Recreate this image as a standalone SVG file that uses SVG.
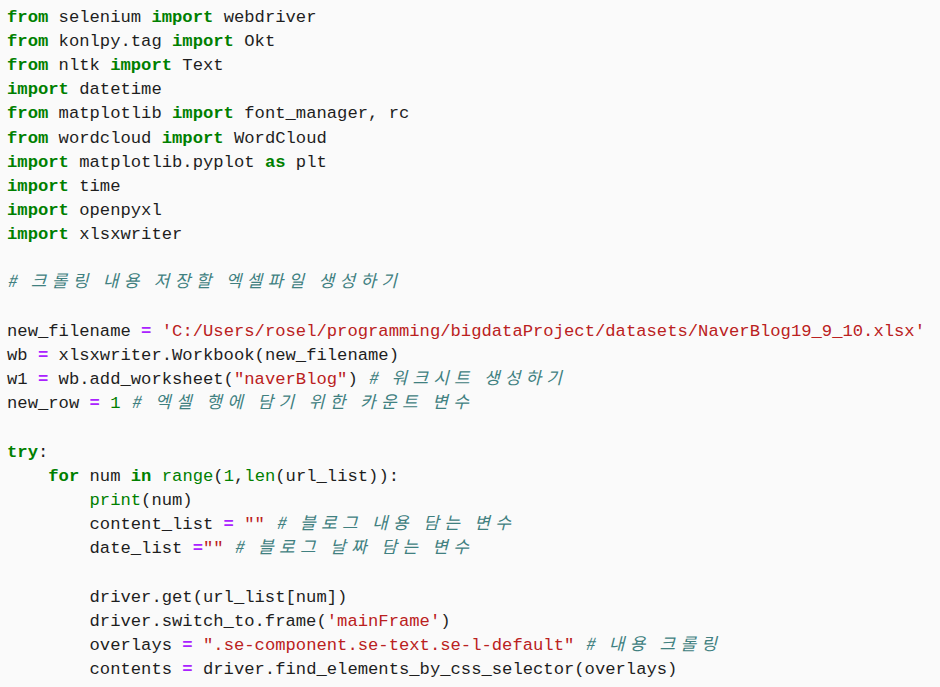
<svg xmlns="http://www.w3.org/2000/svg" width="940" height="687" viewBox="0 0 940 687">
<style>
text{font-family:"Liberation Mono","DejaVu Sans Mono",monospace;font-size:17.2px;fill:#1e1e1e;white-space:pre}
.k{fill:#008000;font-weight:bold}
.b{fill:#008000}
.s{fill:#ba2121}
.o{fill:#aa22ff;font-weight:bold}
.c{fill:#408080;font-style:italic;font-family:"Noto Sans CJK KR","Liberation Mono",monospace;font-size:17px}
</style>
<rect width="940" height="687" fill="#fafafa"/>
<g id="code" xml:space="preserve">
<text x="7" y="22"><tspan class="k">from</tspan> selenium <tspan class="k">import</tspan> webdriver</text>
<text x="7" y="46"><tspan class="k">from</tspan> konlpy.tag <tspan class="k">import</tspan> Okt</text>
<text x="7" y="70"><tspan class="k">from</tspan> nltk <tspan class="k">import</tspan> Text</text>
<text x="7" y="94"><tspan class="k">import</tspan> datetime</text>
<text x="7" y="118"><tspan class="k">from</tspan> matplotlib <tspan class="k">import</tspan> font_manager, rc</text>
<text x="7" y="143"><tspan class="k">from</tspan> wordcloud <tspan class="k">import</tspan> WordCloud</text>
<text x="7" y="167"><tspan class="k">import</tspan> matplotlib.pyplot <tspan class="k">as</tspan> plt</text>
<text x="7" y="191"><tspan class="k">import</tspan> time</text>
<text x="7" y="215"><tspan class="k">import</tspan> openpyxl</text>
<text x="7" y="239"><tspan class="k">import</tspan> xlsxwriter</text>
<text class="c" x="7" y="287" textLength="390" lengthAdjust="spacing"># 크롤링 내용 저장할 엑셀파일 생성하기</text>
<text x="7" y="336">new_filename <tspan class="o">=</tspan> <tspan class="s">'C:/Users/rosel/programming/bigdataProject/datasets/NaverBlog19_9_10.xlsx'</tspan></text>
<text x="7" y="360">wb <tspan class="o">=</tspan> xlsxwriter.Workbook(new_filename)</text>
<text x="7" y="384">w1 <tspan class="o">=</tspan> wb.add_worksheet(<tspan class="s">"naverBlog"</tspan>)</text>
<text class="c" x="368" y="384" textLength="194" lengthAdjust="spacing"># 워크시트 생성하기</text>
<text x="7" y="408">new_row <tspan class="o">=</tspan> <tspan class="b">1</tspan></text>
<text class="c" x="131" y="408" textLength="338" lengthAdjust="spacing"># 엑셀 행에 담기 위한 카운트 변수</text>
<text x="7" y="457"><tspan class="k">try</tspan>:</text>
<text x="7" y="481">    <tspan class="k">for</tspan> num <tspan class="k">in</tspan> <tspan class="b">range</tspan>(<tspan class="b">1</tspan>,<tspan class="b">len</tspan>(url_list)):</text>
<text x="7" y="505">        <tspan class="b">print</tspan>(num)</text>
<text x="7" y="529">        content_list <tspan class="o">=</tspan> <tspan class="s">""</tspan></text>
<text class="c" x="276" y="529" textLength="235" lengthAdjust="spacing"># 블로그 내용 담는 변수</text>
<text x="7" y="553">        date_list <tspan class="o">=</tspan><tspan class="s">""</tspan></text>
<text class="c" x="234" y="553" textLength="235" lengthAdjust="spacing"># 블로그 날짜 담는 변수</text>
<text x="7" y="602">        driver.get(url_list[num])</text>
<text x="7" y="626">        driver.switch_to.frame(<tspan class="s">'mainFrame'</tspan>)</text>
<text x="7" y="650">        overlays <tspan class="o">=</tspan> <tspan class="s">".se-component.se-text.se-l-default"</tspan></text>
<text class="c" x="585" y="650" textLength="132" lengthAdjust="spacing"># 내용 크롤링</text>
<text x="7" y="674">        contents <tspan class="o">=</tspan> driver.find_elements_by_css_selector(overlays)</text>
</g>
</svg>
